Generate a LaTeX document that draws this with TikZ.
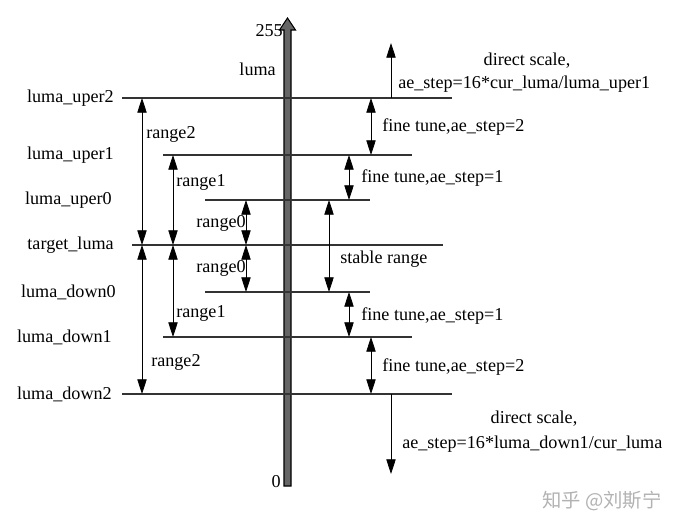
\documentclass[tikz,border=0pt]{standalone}
\usepackage{fontspec}
\setmainfont{Liberation Serif}
\newfontfamily\cjkfont{Noto Sans CJK SC}
\usetikzlibrary{arrows.meta}
\tikzstyle{level}=[draw=black!80, line width=0.9pt]
\tikzstyle{span}=[draw, line width=0.6pt, {Triangle[length=11pt,width=7pt]}-{Triangle[length=11pt,width=7pt]}]
\tikzstyle{ray}=[draw, line width=0.6pt, -{Triangle[length=11pt,width=7pt]}]
\tikzstyle{axis}=[draw, fill=black!60, line width=0.8pt]
\tikzstyle{lbl}=[inner sep=0pt, font=\fontsize{13.6}{15}\selectfont]
\newcommand{\lbl}{\node[lbl]}

\begin{document}
\begin{tikzpicture}[x=.75pt, y=-.75pt]
\useasboundingbox (0,0) rectangle (684,528);
% levels
\coordinate (u2w) at (122,98);  \coordinate (u2e) at (452,98);
\coordinate (u1w) at (163,155); \coordinate (u1e) at (412,155);
\coordinate (u0w) at (205,200); \coordinate (u0e) at (370,200);
\coordinate (tw) at (132,245);  \coordinate (te) at (443,245);
\coordinate (d0w) at (205,292); \coordinate (d0e) at (370,292);
\coordinate (d1w) at (163,337); \coordinate (d1e) at (412,337);
\coordinate (d2w) at (122,394); \coordinate (d2e) at (452,394);
% arrow columns
\coordinate (r2) at (142,0);
\coordinate (r1) at (173,0);
\coordinate (r0) at (246,0);
\coordinate (st) at (329,0);
\coordinate (f1) at (349,0);
\coordinate (f2) at (371,0);
\coordinate (up) at (391,43);
\coordinate (down) at (391,474);
% luma axis
\coordinate (zero) at (287.5,486);
\coordinate (top) at (287.5,18);
\draw[axis] (284,486) -- (284,30) -- (279.5,30) -- (top) -- (295.5,30) -- (291,30) -- (291,486) -- cycle;
\lbl (max) at (283,31) [anchor=east] {255};
\lbl (min) at (281,482) [anchor=east] {0};
\lbl (name) at (276,69) [anchor=east] {luma};
\path
(u2w) edge[level] (u2e)
(u1w) edge[level] (u1e)
(u0w) edge[level] (u0e)
(tw) edge[level] (te)
(d0w) edge[level] (d0e)
(d1w) edge[level] (d1e)
(d2w) edge[level] (d2e);
% level names
\lbl (lu2) at (114,98) [anchor=east] {luma\_uper2};
\lbl (lu1) at (114,155) [anchor=east] {luma\_uper1};
\lbl (lu0) at (112,200) [anchor=east] {luma\_uper0};
\lbl (lt) at (114,245) [anchor=east] {target\_luma};
\lbl (ld0) at (116,292) [anchor=east] {luma\_down0};
\lbl (ld1) at (112,337) [anchor=east] {luma\_down1};
\lbl (ld2) at (112,394) [anchor=east] {luma\_down2};
% ranges
\path
(r2 |- u2w) edge[span] (r2 |- tw) (r2 |- tw) edge[span] (r2 |- d2w)
(r1 |- u1w) edge[span] (r1 |- tw) (r1 |- tw) edge[span] (r1 |- d1w)
(r0 |- u0w) edge[span] (r0 |- tw) (r0 |- tw) edge[span] (r0 |- d0w)
(st |- u0w) edge[span] (st |- d0w)
(f2 |- u2w) edge[span] (f2 |- u1w) (f1 |- u1w) edge[span] (f1 |- u0w)
(f1 |- d0w) edge[span] (f1 |- d1w) (f2 |- d1w) edge[span] (f2 |- d2w)
(up |- u2w) edge[ray] (up)
(down |- d2w) edge[ray] (down);
\lbl (g2a) at (146,134) [anchor=west] {range2};
\lbl (g2b) at (151,362) [anchor=west] {range2};
\lbl (g1a) at (176,182) [anchor=west] {range1};
\lbl (g1b) at (176,313) [anchor=west] {range1};
\lbl (g0a) at (246,223) [anchor=east] {range0};
\lbl (g0b) at (246,268) [anchor=east] {range0};
\lbl (gs) at (340,259) [anchor=west] {stable range};
\lbl (ft2a) at (382,127) [anchor=west] {fine tune,ae\_step=2};
\lbl (ft1a) at (361,178) [anchor=west] {fine tune,ae\_step=1};
\lbl (ft1b) at (361,316) [anchor=west] {fine tune,ae\_step=1};
\lbl (ft2b) at (382,367) [anchor=west] {fine tune,ae\_step=2};
\lbl (dsa) at (527,61) {direct scale,};
\lbl (dsa2) at (398,84) [anchor=west] {ae\_step=16*cur\_luma/luma\_uper1};
\lbl (dsb) at (534,419) {direct scale,};
\lbl (dsb2) at (402,444) [anchor=west] {ae\_step=16*luma\_down1/cur\_luma};
% watermark
\node (mark) at (602,501) [inner sep=0pt, text=black!30, font=\cjkfont\fontsize{14.5}{16}\selectfont] {知乎 @刘斯宁};
\end{tikzpicture}
\end{document}
